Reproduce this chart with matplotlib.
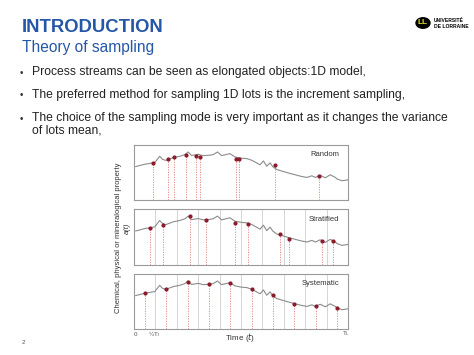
import numpy as np
import matplotlib.pyplot as plt
from matplotlib.patches import Circle

plt.rcParams['font.family'] = ['Liberation Sans', 'DejaVu Sans']

W, H = 474, 355

# signal a(t) (t and a as fractions of the panel)
curve_t = [0.008, 0.05, 0.097, 0.109, 0.12, 0.133, 0.148, 0.183, 0.214, 0.238,
           0.253, 0.269, 0.30, 0.323, 0.35, 0.37, 0.39, 0.409, 0.43, 0.448,
           0.472, 0.503, 0.527, 0.55, 0.573, 0.589, 0.605, 0.62, 0.636, 0.648,
           0.667, 0.698, 0.73, 0.748, 0.777, 0.808, 0.831, 0.848, 0.87, 0.894,
           0.917, 0.941, 0.95, 0.972, 1.0]
curve_a = [0.608, 0.65, 0.68, 0.74, 0.795, 0.74, 0.72, 0.77, 0.795, 0.825,
           0.873, 0.81, 0.83, 0.807, 0.813, 0.825, 0.873, 0.807, 0.825, 0.843,
           0.783, 0.76, 0.753, 0.723, 0.675, 0.64, 0.71, 0.614, 0.675, 0.608,
           0.554, 0.518, 0.482, 0.464, 0.434, 0.41, 0.44, 0.41, 0.45, 0.404,
           0.458, 0.41, 0.38, 0.35, 0.367]

random_t = [0.089, 0.16, 0.188, 0.243, 0.288, 0.31, 0.478, 0.489, 0.658, 0.864]
random_a = [0.667, 0.74, 0.78, 0.81, 0.806, 0.788, 0.745, 0.745, 0.63, 0.436]

strat_t = [0.077, 0.136, 0.261, 0.338, 0.473, 0.533, 0.68, 0.725, 0.877, 0.93]
strat_a = [0.655, 0.71, 0.873, 0.81, 0.75, 0.74, 0.545, 0.47, 0.42, 0.43]

syst_t = [0.05, 0.15, 0.25, 0.35, 0.45, 0.55, 0.65, 0.75, 0.85, 0.95]
syst_a = [0.65, 0.72, 0.85, 0.81, 0.83, 0.72, 0.61, 0.46, 0.41, 0.38]

strata = [0.1, 0.2, 0.3, 0.4, 0.5, 0.6, 0.7, 0.8, 0.9]

bullets = [
    "Process streams can be seen as elongated objects:1D model,",
    "The preferred method for sampling 1D lots is the increment sampling,",
    "The choice of the sampling mode is very important as it changes the variance\nof lots mean,",
]

BLUE = '#2557a7'

fig = plt.figure(figsize=(W / 100, H / 100), dpi=100)
fig.patch.set_facecolor('white')


def px(x, y):
    return x / W, 1 - y / H


def panel(x0, y0, x1, y1):
    ax = fig.add_axes([x0 / W, 1 - y1 / H, (x1 - x0) / W, (y1 - y0) / H])
    ax.set_xlim(0, 1)
    ax.set_ylim(0, 1)
    ax.set_xticks([])
    ax.set_yticks([])
    for s in ax.spines.values():
        s.set_color('#9a9a9a')
        s.set_linewidth(0.8)
    return ax


# header
fig.text(*px(22, 32), "INTRODUCTION", fontsize=13.3, fontweight='bold', color=BLUE)
fig.text(*px(22, 52), "Theory of sampling", fontsize=11.2, color=BLUE)

# logo
logo = Circle(px(423, 23), 7 / W, transform=fig.transFigure, color='black')
fig.patches.append(logo)
fig.text(*px(423, 23), "LL", fontsize=6, fontweight='bold', color='#d7df23',
         ha='center', va='center')
fig.text(*px(434, 20), "UNIVERSITÉ", fontsize=3.6, fontweight='bold', va='center')
fig.text(*px(434, 26), "DE LORRAINE", fontsize=3.6, fontweight='bold', va='center')

# bullets
for yb, txt in zip([71, 94, 117], bullets):
    fig.text(*px(21, yb + 1.5), "•", fontsize=7, ha='center', va='center', color='#333333')
    fig.text(*px(32, yb - 4.8), txt, fontsize=8.7, va='top', color='#222222',
             linespacing=1.0)

# panels
boxes = [(134, 145, 348, 200), (134, 209, 348, 265), (134, 274, 348, 329)]
names = ["Random", "Stratified", "Systematic"]
samples = [(random_t, random_a), (strat_t, strat_a), (syst_t, syst_a)]

for i, (box, name, (st, sa)) in enumerate(zip(boxes, names, samples)):
    ax = panel(*box)
    if i > 0:
        ax.vlines(strata, 0, 1, colors='#cfcfcf', linewidth=0.6)
    ax.vlines(st, 0, sa, colors='#e08080', linewidth=0.6, linestyles=(0, (1.5, 1.5)))
    ax.plot(curve_t, curve_a, color='#8c8c8c', linewidth=0.8)
    ax.plot(st, sa, 'o', color='#8b1a2a', markersize=2)
    ax.text(0.96, 0.82, name, transform=ax.transAxes, ha='right', va='center',
            fontsize=5.5, color='#333333')

# axis labels
fig.text(*px(118, 238), "Chemical, physical or mineralogical property", rotation=90,
         fontsize=5.5, ha='center', va='center', color='#333333')
fig.text(*px(127, 228), "a(t)", rotation=90, fontsize=5.5, style='italic',
         ha='center', va='center', color='#333333')
fig.text(*px(135, 334), "0", fontsize=4.5, ha='center', va='center', color='#555555')
fig.text(*px(154, 334), r"½T$_\mathrm{l}$", fontsize=4.5, ha='center', va='center',
         color='#555555')
fig.text(*px(346, 334), r"T$_\mathrm{L}$", fontsize=4.5, ha='center', va='center',
         color='#555555')
fig.text(*px(240, 337), r"Time ($\it{t}$)", fontsize=5.8, ha='center', va='center',
         color='#333333')

fig.text(*px(23, 343), "2", fontsize=4.5, ha='center', va='center', color='#555555')

fig.savefig('out.png', dpi=100, facecolor='white')
